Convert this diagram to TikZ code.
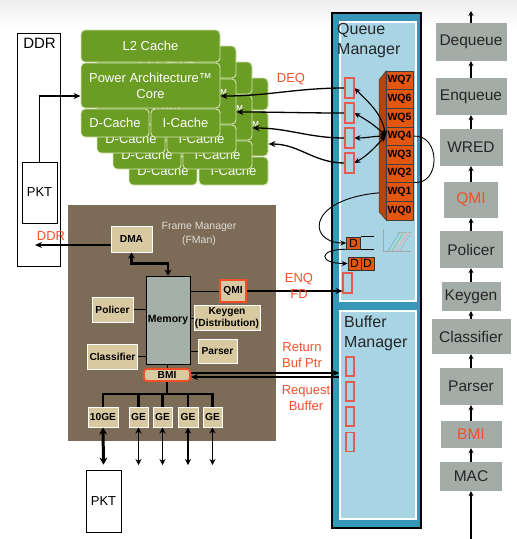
\documentclass[tikz,border=0pt]{standalone}
\usepackage{fontspec}
\setmainfont{Liberation Sans}
\usetikzlibrary{arrows.meta}
\definecolor{cgreen}{HTML}{6B9C23}
\definecolor{cgborder}{HTML}{D4E4B8}
\definecolor{cbrown}{HTML}{7B6B57}
\definecolor{ctan}{HTML}{D9C9A0}
\definecolor{cmem}{HTML}{A5B0A9}
\definecolor{cpipe}{HTML}{A3ACA6}
\definecolor{cteal}{HTML}{3797B9}
\definecolor{clight}{HTML}{A8D4E4}
\definecolor{corange}{HTML}{E2560F}
\definecolor{corangedk}{HTML}{B84408}
\definecolor{cport}{HTML}{E85A50}
\definecolor{cred}{HTML}{F3502A}
\definecolor{cfman}{HTML}{E2DDD2}
\pgfdeclarelayer{bg}
\pgfdeclarelayer{mid}
\pgfsetlayers{bg,mid,main}
\tikzset{
  corebox/.style={draw=cgborder, line width=0.9pt, fill=cgreen, rounded corners=4pt, text=white, inner sep=0pt, font=\fontsize{13}{16}\selectfont, align=center},
  tanbox/.style={draw=white, line width=1pt, fill=ctan, inner sep=0pt, font=\fontsize{10.2}{12.5}\selectfont\bfseries, align=center},
  pipebox/.style={fill=cpipe, inner sep=0pt, font=\fontsize{15.5}{18}\selectfont, text=black!85},
  portbox/.style={draw=cport, line width=1.8pt, inner sep=0pt, minimum width=8pt, minimum height=19pt},
  portline/.style={draw=cport, line width=1.8pt},
  wqcell/.style={draw=black!75, line width=0.5pt, fill=corange, inner sep=0pt, minimum width=27pt, minimum height=18.6pt, font=\fontsize{10.5}{12}\selectfont\bfseries},
  dcell/.style={draw=black!80, line width=0.5pt, fill=corange, inner sep=0pt, minimum width=13pt, minimum height=13pt, font=\fontsize{12}{13}\selectfont},
  redlbl/.style={text=cred, font=\fontsize{13}{16}\selectfont, align=center, inner sep=0pt},
  whitebox/.style={draw=black, line width=0.8pt, fill=white, inner sep=0pt},
  arr/.style={-{Stealth[length=7pt,width=6pt]}, line width=1.3pt},
  darr/.style={{Stealth[length=6pt,width=5.5pt]}-{Stealth[length=6pt,width=5.5pt]}, line width=1.1pt},
  thinarr/.style={-{Stealth[length=6pt,width=5pt]}, line width=0.9pt},
  parr/.style={-{Stealth[length=5pt,width=5pt]}, line width=1.5pt},
  bus/.style={line width=2.5pt},
  fline/.style={line width=0.8pt},
}
\begin{document}
\begin{tikzpicture}[x=1pt,y=-1pt]
\useasboundingbox (0,0) rectangle (517,539);
\begin{pgfonlayer}{bg}
\shade[top color=black!7, bottom color=white] (0,0) rectangle (517,28);
\node[draw=black, line width=1.6pt, fill=cteal, minimum width=89pt, minimum height=515pt, inner sep=0pt] (qmouter) at (376.5,270.5) {};
\node[draw=white, line width=1.2pt, fill=clight, minimum width=76pt, minimum height=279pt, inner sep=0pt] (qm) at (378,161.5) {};
\node[draw=white, line width=1.2pt, fill=clight, minimum width=76pt, minimum height=208pt, inner sep=0pt] (bm) at (378,415) {};
\end{pgfonlayer}
\node[anchor=north west, inner sep=0pt, align=left, font=\fontsize{16}{20}\selectfont, text=black!85] (qmlbl) at (337,23) {Queue\\Manager};
\node[anchor=north west, inner sep=0pt, align=left, font=\fontsize{16}{20}\selectfont, text=black!85] (bmlbl) at (344,316) {Buffer\\Manager};

% DDR
\node[whitebox, minimum width=43pt, minimum height=233pt] (ddr) at (38.5,149.5) {};
\node[inner sep=0pt, font=\fontsize{15}{18}\selectfont] (ddrlbl) at (39.5,43) {DDR};
\node[whitebox, minimum width=35pt, minimum height=61pt, font=\fontsize{13}{16}\selectfont] (pkt1) at (39.5,192.5) {PKT};

% cores
\foreach \k in {3,2,1,0}{
  \pgfmathsetmacro{\o}{16*\k}
  \node[corebox, minimum width=139pt, minimum height=32pt] (c\k l2) at (150.5+\o,46+\o) {L2 Cache};
  \node[corebox, minimum width=139pt, minimum height=45pt] (c\k core) at (150.5+\o,85.5+\o) {Power Architecture™\\Core};
  \node[corebox, minimum width=68pt, minimum height=28pt] (c\k d) at (115+\o,123+\o) {D-Cache};
  \node[corebox, minimum width=69pt, minimum height=28pt] (c\k i) at (185.5+\o,123+\o) {I-Cache};
}
\draw[arr] (pkt1.north) |- ([yshift=-10.5pt]c0core.west);

% QM ports
\node[portbox] (qp1) at (349.5,88) {};
\node[portbox] (qp2) at (349.5,113) {};
\node[portbox] (qp3) at (349.5,138) {};
\node[portbox] (qp4) at (349.5,163) {};
\node[portbox] (qp5) at (347.5,283) {};

% D boxes
\node[dcell, minimum width=14pt, minimum height=12pt] (dbox) at (353.5,243) {D};
\draw[line width=1pt] (dbox.north east) -- ++(13,0);
\draw[line width=1pt] (dbox.south east) -- ++(13,0);
\node[dcell] (dd1) at (354.5,263.5) {D};
\node[dcell] (dd2) at (367.5,263.5) {D};

% WQ stack
\fill[corangedk, draw=black!75, line width=0.5pt] (379,80) -- (386,71) -- (386,219.8) -- (379,212) -- cycle;
\foreach \k in {7,...,0}{
  \node[wqcell] (wq\k) at (399.5,{71+(7-\k)*18.6+9.3}) {WQ\k};
}
\begin{pgfonlayer}{mid}
\draw[line width=0.9pt] (wq4.east) .. controls (441,134) and (441,186) .. (wq1.north east);
\draw[thinarr] (wq1.center) .. controls (305,192) and (305,243) .. (dbox.west);
\end{pgfonlayer}
\draw[thinarr] (dbox.south west) .. controls (318,249) and (318,263.5) .. (dd1.west);

% small chart icon
\draw[gray!70, line width=0.6pt] (383,229) -- (383,251) -- (411,251);
\draw[gray!60, line width=0.6pt] (397,232) -- (411,232);
\draw[cteal!70, line width=0.7pt] (388,251) -- (400,232);
\draw[green!60!black!50, line width=0.7pt] (392,251) -- (404,232);
\draw[red!35, line width=0.7pt] (396,251) -- (408,232);
\draw[gray!60, line width=0.6pt] (400,251) -- (411,232);

% port <-> WQ4
\draw[darr] (qp1.east) to[out=-45,in=100] (wq4.west);
\draw[darr] (qp2.east) to[out=-30,in=135] (wq4.west);
\draw[darr] (qp3.east) to[out=0,in=180] (wq4.west);
\draw[darr] (qp4.east) to[out=30,in=-135] (wq4.west);

% dequeue arrows to cores
\draw[arr] (qp1.west) to[out=180,in=0] ([yshift=-10.5pt]c0core.east);
\draw[arr] (qp2.west) to[out=180,in=0] ([yshift=-10.5pt]c1core.east);
\draw[arr] (qp3.west) to[out=180,in=0] ([yshift=-10.5pt]c2core.east);
\draw[arr] (qp4.west) to[out=180,in=0] ([yshift=-10.5pt]c3core.east);
\node[redlbl] (deq) at (291,79) {DEQ};
\foreach \p in {qp1,qp2,qp3,qp4,qp5}{
  \draw[portline] (\p.south west) rectangle (\p.north east);
}

% buffer manager ports
\node[portbox] (bp1) at (350,366.5) {};
\node[portbox] (bp2) at (350,391.5) {};
\node[portbox] (bp3) at (350,416.5) {};
\node[portbox] (bp4) at (350,442) {};

% FMan
\node[fill=cbrown, minimum width=208pt, minimum height=236pt, inner sep=0pt] (fman) at (172,323) {};
\node[text=cfman, inner sep=0pt, font=\fontsize{10.5}{14}\selectfont, align=center] (fmanlbl) at (199,234) {Frame Manager\\(FMan)};
\node[tanbox, minimum width=41pt, minimum height=26pt] (dma) at (131.5,239) {DMA};
\node[draw=black, line width=0.8pt, fill=cmem, inner sep=0pt, minimum width=44pt, minimum height=88pt, font=\fontsize{10.5}{12.5}\selectfont\bfseries] (mem) at (168,320) {\raisebox{-6pt}{Memory}};
\node[tanbox, draw=cred, line width=1.8pt, minimum width=26pt, minimum height=22pt] (qmi) at (233,291) {QMI};
\node[tanbox, minimum width=66pt, minimum height=25pt] (keygen) at (227,318) {Keygen\\(Distribution)};
\node[tanbox, minimum width=39pt, minimum height=24pt] (parser) at (217.5,351) {Parser};
\node[tanbox, minimum width=41pt, minimum height=25pt] (policer) at (112.5,309.5) {Policer};
\node[tanbox, minimum width=50pt, minimum height=25pt] (classifier) at (112.5,356.5) {Classifier};
\node[tanbox, draw=cred, line width=1.8pt, rounded corners=3pt, minimum width=46pt, minimum height=12pt] (bmi) at (167,375) {BMI};
\node[tanbox, minimum width=30pt, minimum height=20pt] (g10) at (103,417) {10GE};
\node[tanbox, minimum width=19pt, minimum height=20pt] (g1) at (138.5,417) {GE};
\node[tanbox, minimum width=19pt, minimum height=20pt] (g2) at (162.5,417) {GE};
\node[tanbox, minimum width=20pt, minimum height=20pt] (g3) at (188,417) {GE};
\node[tanbox, minimum width=19pt, minimum height=20pt] (g4) at (212.5,417) {GE};

\draw[fline] (mem.east |- qmi.west) -- (qmi.west);
\draw[fline] (mem.east |- keygen.west) -- (keygen.west);
\draw[fline] (mem.east |- parser.west) -- (parser.west);
\draw[fline] (policer.east) -- (policer.east -| mem.west);
\draw[fline] (classifier.east) -- (classifier.east -| mem.west);
\draw[fline] (mem.south) -- (bmi.north);
\draw[{Stealth[length=6pt,width=7pt]}-{Stealth[length=6pt,width=7pt]}, line width=2.5pt] (dma.south) -- ++(0,11) -| (mem.north);

\coordinate (busc) at (167,394);
\draw[bus] (bmi.south) -- (busc);
\draw[bus] (g10.north) -- (g10.north |- busc) -- (g4.north |- busc) -- (g4.north);
\draw[bus] (g1.north) -- (g1.north |- busc);
\draw[bus] (g2.north) -- (g2.north |- busc);
\draw[bus] (g3.north) -- (g3.north |- busc);

% DDR arrow
\coordinate (ddrin) at (35,245);
\draw[arr] ([yshift=-6pt]dma.west) -- (ddrin);
\node[redlbl] (ddrred) at (51,236) {DDR};

% ENQ
\draw[arr] (qmi.east) -- (qmi.east -| qp5.west);
\node[redlbl] (enq) at (299,286) {ENQ\\FD};

% BMI <-> BM
\draw[arr] ([yshift=-2pt]bmi.east -| bm.west) -- ([yshift=-2pt]bmi.east);
\draw[arr] ([yshift=2pt]bmi.east) -- ([yshift=2pt]bmi.east -| bm.west);
\node[redlbl] (retbuf) at (302,355) {Return\\Buf Ptr};
\node[redlbl] (reqbuf) at (306,398) {Request\\Buffer};

% ports down
\node[whitebox, minimum width=35pt, minimum height=62pt, font=\fontsize{13}{16}\selectfont] (pkt2) at (103.5,501) {PKT};
\draw[{Stealth[length=7pt,width=8pt]}-{Stealth[length=7pt,width=8pt]}, line width=3pt] (g10.south) -- ([yshift=5pt]pkt2.north);
\coordinate (e1) at (138.5,465);
\coordinate (e2) at (162.5,465);
\coordinate (e3) at (188,465);
\coordinate (e4) at (212.5,465);
\draw[{Stealth[length=6pt,width=6pt]}-{Stealth[length=6pt,width=6pt]}, line width=1.5pt] (g1.south) -- (e1);
\draw[{Stealth[length=6pt,width=6pt]}-{Stealth[length=6pt,width=6pt]}, line width=1.5pt] (g2.south) -- (e2);
\draw[{Stealth[length=6pt,width=6pt]}-{Stealth[length=6pt,width=6pt]}, line width=1.5pt] (g3.south) -- (e3);
\draw[{Stealth[length=6pt,width=6pt]}-{Stealth[length=6pt,width=6pt]}, line width=1.5pt] (g4.south) -- (e4);

% right pipeline
\node[pipebox, minimum width=71pt, minimum height=38pt] (pdeq) at (471,42) {Dequeue};
\node[pipebox, minimum width=71pt, minimum height=37pt] (penq) at (471,96.5) {Enqueue};
\node[pipebox, minimum width=63pt, minimum height=37pt] (pwred) at (471,147.5) {WRED};
\node[pipebox, minimum width=54pt, minimum height=36pt, text=cred] (pqmi) at (471,200) {QMI};
\node[pipebox, minimum width=63pt, minimum height=37pt] (ppol) at (471,249.5) {Policer};
\node[pipebox, minimum width=59pt, minimum height=29pt] (pkey) at (471,296.5) {Keygen};
\node[pipebox, minimum width=79pt, minimum height=35pt] (pcls) at (471,336.5) {Classifier};
\node[pipebox, minimum width=63pt, minimum height=37pt] (ppar) at (471,386.5) {Parser};
\node[pipebox, minimum width=61pt, minimum height=27pt, text=cred] (pbmi) at (471,434.5) {BMI};
\node[pipebox, minimum width=62pt, minimum height=29pt] (pmac) at (471,476.5) {MAC};
\coordinate (pin) at (471,539);
\coordinate (pout) at (471,11);
\draw[parr] (pin) -- (pmac.south);
\draw[parr] (pmac.north) -- (pbmi.south);
\draw[parr] (pbmi.north) -- (ppar.south);
\draw[parr] (ppar.north) -- (pcls.south);
\draw[parr] (pcls.north) -- (pkey.south);
\draw[parr] (pkey.north) -- (ppol.south);
\draw[parr] (ppol.north) -- (pqmi.south);
\draw[parr] (pqmi.north) -- (pwred.south);
\draw[parr] (pwred.north) -- (penq.south);
\draw[parr] (penq.north) -- (pdeq.south);
\draw[parr] (pdeq.north) -- (pout);
\end{tikzpicture}
\end{document}
